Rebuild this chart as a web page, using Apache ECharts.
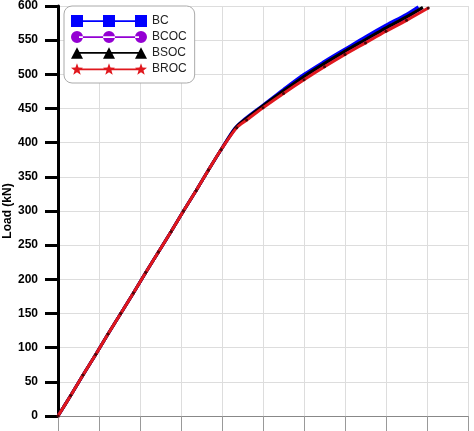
<!DOCTYPE html>
<html>
<head>
<meta charset="utf-8">
<script src="https://cdn.jsdelivr.net/npm/echarts@6/dist/echarts.min.js"></script>
<style>
  html, body { margin: 0; padding: 0; background: #fff; }
  #chart { width: 474px; height: 431px; }
</style>
</head>
<body>
<div id="chart"></div>
<script>
// shared elastic branch (displacement, load in kN)
const elasticDisp = [0, 0.31, 0.61, 0.92, 1.22, 1.53, 1.84, 2.14, 2.45, 2.76, 3.06, 3.37, 3.67, 3.98]
const elasticLoad = [0, 30, 60, 90, 120, 150, 180, 210, 240, 270, 300, 330, 360, 390]

// post-yield branches
const bcDisp = [4.3, 4.5, 5.0, 5.5, 6.0, 6.5, 7.0, 7.5, 8.0, 8.5, 8.79]
const bcLoad = [420, 432, 455, 478, 500, 519, 537, 555, 572, 588, 599]
const bcocDisp = [4.32, 4.5, 5.0, 5.5, 6.0, 6.5, 7.0, 7.5, 8.0, 8.5, 8.88]
const bcocLoad = [420, 431, 453, 475, 496, 515, 533, 550, 567, 583, 597]
const bsocDisp = [4.32, 4.5, 5.0, 5.5, 6.0, 6.5, 7.0, 7.5, 8.0, 8.5, 8.9]
const bsocLoad = [421, 431, 454, 476, 497, 516, 534, 551, 568, 584, 598]
const brocDisp = [4.36, 4.6, 5.0, 5.5, 6.0, 6.5, 7.0, 7.5, 8.0, 8.5, 9.03]
const brocLoad = [422, 433, 451, 472, 492, 511, 529, 546, 563, 579, 597]

const seriesNames = ['BC', 'BCOC', 'BSOC', 'BROC']
const yTicks = [0, 50, 100, 150, 200, 250, 300, 350, 400, 450, 500, 550, 600]

const colors = ['#0000ff', '#9400d3', '#000000', '#e0181e']

const toPoints = (dx, dy) => {
  const xs = elasticDisp.concat(dx)
  const ys = elasticLoad.concat(dy)
  return xs.map((x, i) => [x, ys[i]])
}

// legend icon: line with three markers, drawn in a 76x12 box
const starPath = (cx) => {
  const pts = []
  for (let k = 0; k < 10; k++) {
    const a = (-90 + 36 * k) * Math.PI / 180
    const r = k % 2 === 0 ? 6.3 : 2.6
    pts.push((cx + r * Math.cos(a)).toFixed(2) + ' ' + (6.3 + r * Math.sin(a)).toFixed(2))
  }
  return 'M' + pts.join(' L') + ' Z '
}
const markerPath = (shape, x) => {
  if (shape === 'square') return `M${x} 0 h12 v12 h-12 Z `
  if (shape === 'circle') return `M${x} 6 A6 6 0 1 0 ${x + 12} 6 A6 6 0 1 0 ${x} 6 Z `
  if (shape === 'triangle') return `M${x} 12 L${x + 6} 0.5 L${x + 12} 12 Z `
  return starPath(x + 6)
}
const legendIcon = (shape) => {
  let p = 'M8 5.2 h60 v1.8 h-60 Z '
  ;[0, 32, 64].forEach(x => { p += markerPath(shape, x) })
  return 'path://' + p
}
const shapes = ['square', 'circle', 'triangle', 'star']

const chart = echarts.init(document.getElementById('chart'))

const option = {
  animation: false,
  textStyle: { fontFamily: 'Liberation Sans, Arial, sans-serif' },
  grid: { left: 58, right: 6, top: 6, bottom: 15, containLabel: false, outerBoundsMode: 'none' },
  legend: {
    orient: 'vertical',
    left: 64,
    top: 6,
    padding: [9, 8, 8, 7],
    itemWidth: 76,
    itemHeight: 12,
    itemGap: 4,
    backgroundColor: '#fff',
    borderColor: '#aaa',
    borderWidth: 1,
    borderRadius: 8,
    itemStyle: { borderWidth: 0 },
    textStyle: { fontSize: 12, color: '#222', fontFamily: 'Liberation Sans, Arial, sans-serif' },
    data: seriesNames.map((n, i) => ({
      name: n,
      icon: legendIcon(shapes[i]),
      itemStyle: { color: colors[i], borderWidth: 0 }
    }))
  },
  xAxis: {
    type: 'value',
    min: 0,
    max: 10,
    interval: 1,
    axisLabel: { show: false },
    axisLine: { lineStyle: { color: '#888', width: 1 } },
    axisTick: { length: 15, lineStyle: { color: '#999', width: 1 } },
    splitLine: { lineStyle: { color: '#ddd', width: 1 } }
  },
  yAxis: {
    type: 'value',
    min: yTicks[0],
    max: yTicks[yTicks.length - 1],
    interval: 50,
    name: 'Load (kN)',
    nameLocation: 'middle',
    nameGap: 44,
    nameMoveOverlap: false,
    nameTextStyle: { fontSize: 12, fontWeight: 'bold', color: '#000' },
    axisLine: { lineStyle: { color: '#000', width: 3 } },
    axisTick: { length: 13, lineStyle: { color: '#000', width: 3 } },
    axisLabel: { fontSize: 12, fontWeight: 'bold', color: '#000', margin: 20 },
    splitLine: { lineStyle: { color: '#ddd', width: 1 } }
  },
  series: [
    {
      name: 'BC',
      type: 'line',
      data: toPoints(bcDisp, bcLoad),
      smooth: 0.3,
      showSymbol: false,
      itemStyle: { color: colors[0] },
      lineStyle: { color: colors[0], width: 3 }
    },
    {
      name: 'BCOC',
      type: 'line',
      data: toPoints(bcocDisp, bcocLoad),
      smooth: 0.3,
      showSymbol: false,
      itemStyle: { color: colors[1] },
      lineStyle: { color: colors[1], width: 3 }
    },
    {
      name: 'BSOC',
      type: 'line',
      data: toPoints(bsocDisp, bsocLoad),
      smooth: 0.3,
      showSymbol: false,
      itemStyle: { color: colors[2] },
      lineStyle: { color: colors[2], width: 3 }
    },
    {
      name: 'BROC',
      type: 'line',
      data: toPoints(brocDisp, brocLoad),
      smooth: 0.3,
      showSymbol: true,
      symbol: 'circle',
      symbolSize: 3,
      itemStyle: { color: '#4a0808', borderWidth: 0 },
      lineStyle: { color: colors[3], width: 3 }
    }
  ]
}

chart.setOption(option)
window.addEventListener('resize', () => chart.resize())
</script>
</body>
</html>
